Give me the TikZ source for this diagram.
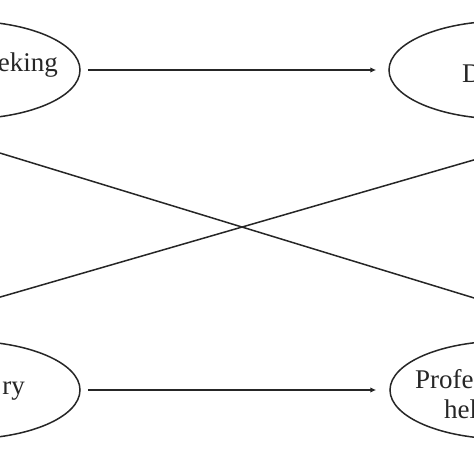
\documentclass[tikz,border=0pt]{standalone}
\usepackage{fontspec}
\setmainfont{Liberation Serif}
\usetikzlibrary{arrows.meta,shapes.geometric}
\begin{document}
\begin{tikzpicture}[x=1pt,y=-1pt,
  oval/.style={draw=black!85, ellipse, line width=1.5pt, minimum width=230pt, minimum height=98pt, inner sep=0pt},
  lab/.style={font=\fontsize{27}{30}\selectfont, text=black!85, inner sep=0pt},
  arr/.style={draw=black!85, line width=1.8pt, -{Latex[length=6pt,width=5.5pt]}},
  cross/.style={draw=black!85, line width=1.5pt}]
\useasboundingbox (0,0) rectangle (474,474);
\clip (0,0) rectangle (474,474);
% ellipses (mostly outside the crop)
\node[oval] (TL) at (-35,70) {};
\node[oval] (TR) at (504,70) {};
\node[oval] (BL) at (-35,390) {};
\node[oval] (BR) at (505,390) {};
% visible text fragments
\node[lab, anchor=base east] (tTL) at (58,71) {eking};
\node[lab, anchor=base west] (tTR) at (462,82) {D};
\node[lab, anchor=base east] (tBL) at (25,394) {ry};
\node[lab, anchor=base west] (tBR1) at (415,388) {Profe};
\node[lab, anchor=base west] (tBR2) at (444,418) {hel};
% horizontal arrows
\draw[arr, shorten <=7pt, shorten >=12pt] (TL) -- (TR);
\draw[arr, shorten <=7pt, shorten >=13pt] (BL) -- (BR);
% crossing paths (ends outside the crop)
\coordinate (c1a) at (-10,150);
\coordinate (c1b) at (484,301);
\coordinate (c2a) at (-10,300);
\coordinate (c2b) at (484,157);
\draw[cross] (c1a) -- (c1b);
\draw[cross] (c2a) -- (c2b);
\end{tikzpicture}
\end{document}
